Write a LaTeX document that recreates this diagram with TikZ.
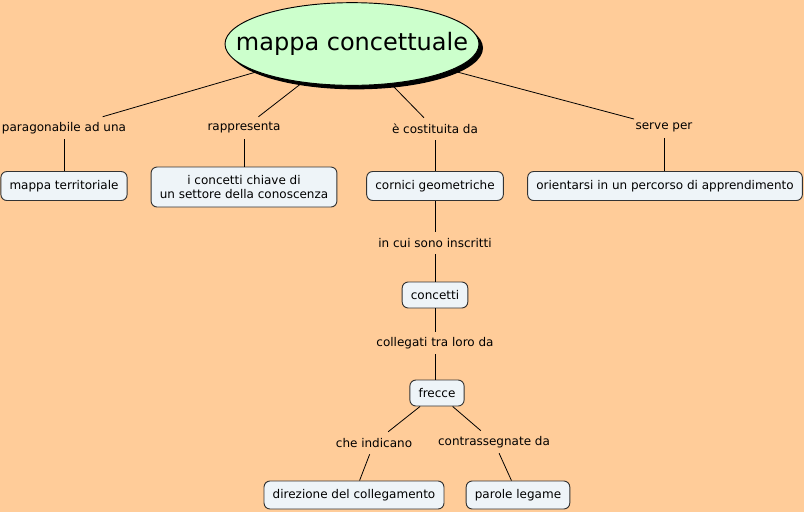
\documentclass[tikz,border=0pt]{standalone}
\usepackage{fontspec}
\setmainfont{DejaVu Sans}
\usetikzlibrary{shapes.geometric,shadows}
\definecolor{bgpeach}{RGB}{255,204,153}
\definecolor{ellgreen}{RGB}{204,255,204}
\definecolor{boxfill}{RGB}{238,244,248}
\tikzset{
  concept/.style={draw=black!80, line width=0.7pt, fill=boxfill, rounded corners=4.5pt,
    font=\fontsize{9pt}{11pt}\selectfont, align=center, inner xsep=6.5pt, minimum height=21.75pt},
  linkword/.style={font=\fontsize{9pt}{11pt}\selectfont, inner xsep=1pt, minimum height=16.5pt},
  conn/.style={line width=0.6pt, black},
  mainell/.style={ellipse, draw=black, line width=0.7pt, fill=ellgreen, minimum width=190.5pt, minimum height=62pt,
    inner sep=0pt,
    drop shadow={shadow xshift=3pt, shadow yshift=-3pt, fill=black, opacity=1}},
  titletext/.style={font=\fontsize{18pt}{21pt}\selectfont, inner sep=0pt}
}
\begin{document}
\begin{tikzpicture}[x=0.75pt,y=-0.75pt]
\useasboundingbox (0,0) rectangle (804,512);
\fill[bgpeach] (0,0) rectangle (804,512);

\node[mainell] (mc) at (352,44) {};
\node[titletext] (mct) at (352,44) {mappa concettuale};

\node[linkword] (l1) at (64,128) {paragonabile ad una};
\node[linkword] (l2) at (244,128) {rappresenta};
\node[linkword] (l3) at (435,129) {è costituita da};
\node[linkword] (l4) at (664,127) {serve per};

\node[concept] (c1) at (64,186) {mappa territoriale};
\node[concept, minimum height=30pt] (c2) at (244,187) {i concetti chiave di\\un settore della conoscenza};
\node[concept] (c3) at (435,186) {cornici geometriche};
\node[concept] (c4) at (665,186) {orientarsi in un percorso di apprendimento};

\node[linkword] (l5) at (435,243) {in cui sono inscritti};
\node[concept, minimum height=19.5pt] (c5) at (435,295) {concetti};
\node[linkword] (l6) at (435,343) {collegati tra loro da};
\node[concept, minimum height=19.5pt] (c6) at (437,393) {frecce};
\node[linkword] (l7) at (374,443) {che indicano};
\node[linkword] (l8) at (494,442) {contrassegnate da};
\node[concept, minimum height=21pt] (c7) at (354,495) {direzione del collegamento};
\node[concept, minimum height=21pt] (c8) at (518,495) {parole legame};

\draw[conn] (mc) -- (l1);
\draw[conn] (mc) -- (l2);
\draw[conn] (mc) -- (l3);
\draw[conn] (mc) -- (l4);
\draw[conn] (l1) -- (l1 |- c1.north);
\draw[conn] (l2) -- (l2 |- c2.north);
\draw[conn] (l3) -- (l3 |- c3.north);
\draw[conn] (l4) -- (l4 |- c4.north);
\draw[conn] (c3) -- (l5);
\draw[conn] (l5) -- (c5);
\draw[conn] (c5) -- (l6);
\draw[conn] (l6) -- (l6 |- c6.north);
\draw[conn] (c6) -- (l7);
\draw[conn] (l7) -- (c7);
\draw[conn] (c6) -- (l8);
\draw[conn] (l8) -- (c8);
\end{tikzpicture}
\end{document}
